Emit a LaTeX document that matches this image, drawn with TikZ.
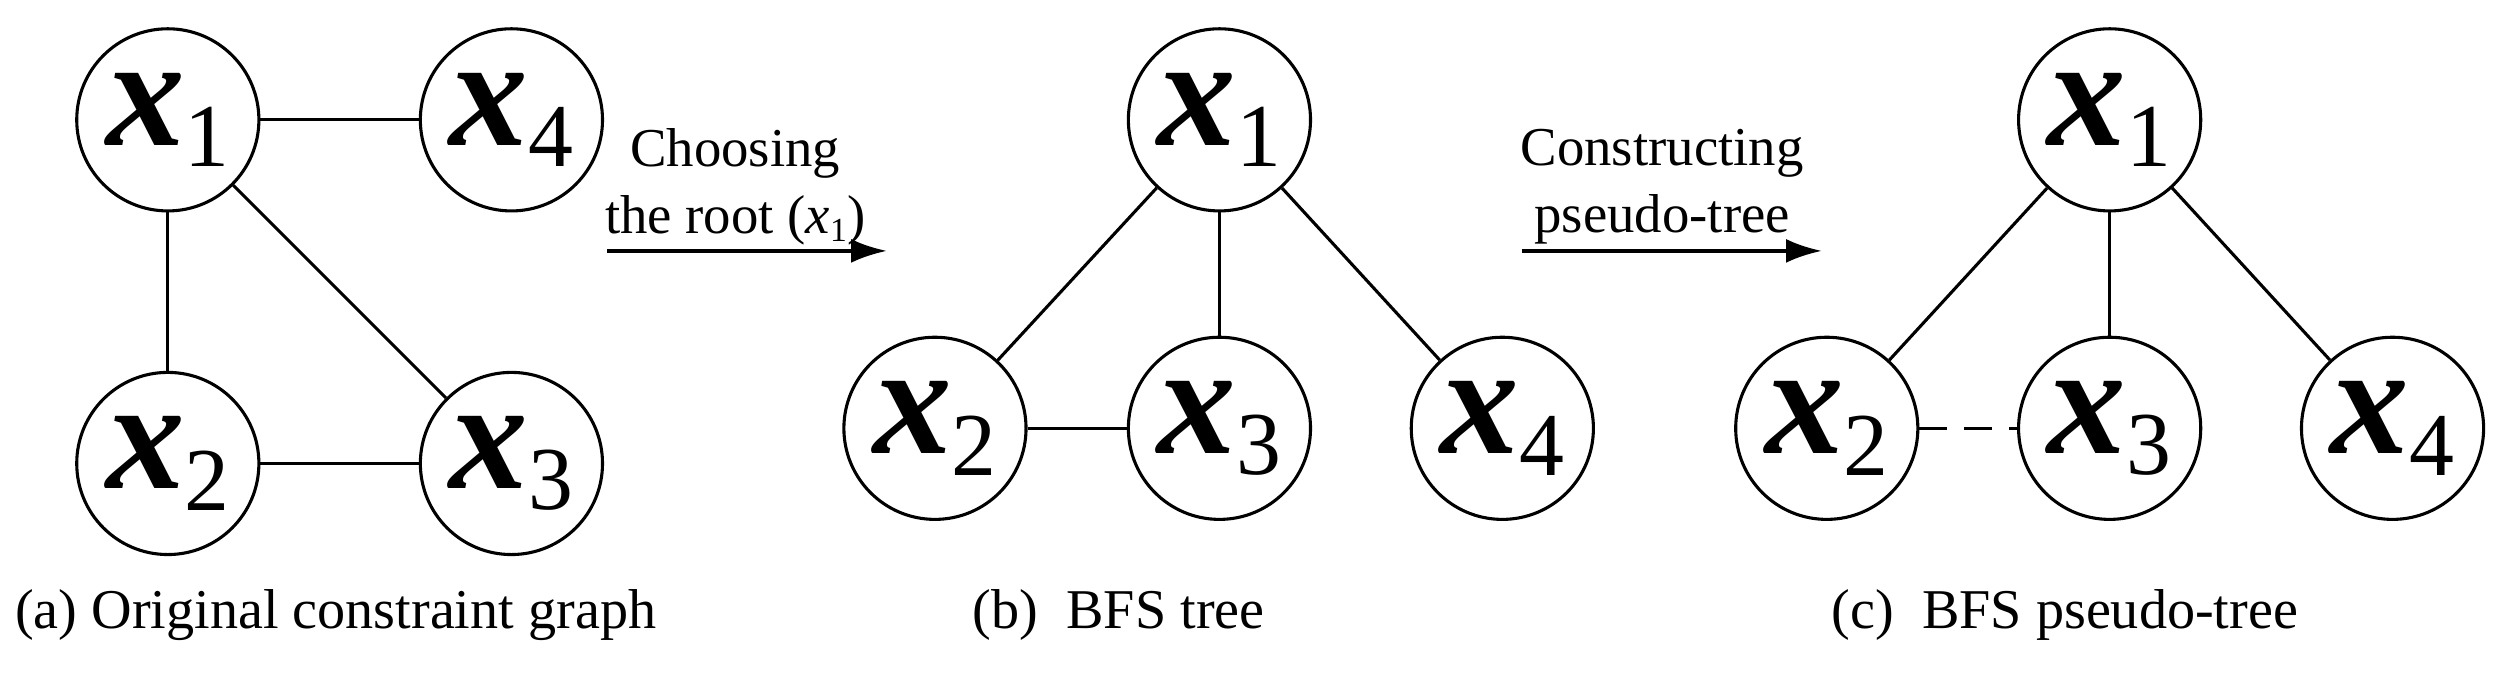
\documentclass[tikz,border=0pt]{standalone}
\usepackage{fontspec}
\setmainfont{Liberation Serif}
\usetikzlibrary{arrows.meta}
\newcommand\xv[1]{\textit{\textbf{x}}\raisebox{-0.3ex}{\fontsize{32}{32}\selectfont #1}}
\newcommand\xs[1]{\textit{x}\raisebox{-0.3ex}{\fontsize{12}{12}\selectfont #1}}
\begin{document}
\begin{tikzpicture}[x=0.02cm,y=-0.02cm,
  v/.style={circle,draw,line width=1.1pt,minimum size=2.28cm,inner sep=0pt,font=\fontsize{56}{56}\selectfont},
  e/.style={line width=1.1pt},
  captxt/.style={font=\fontsize{20}{23}\selectfont},
  lab/.style={font=\fontsize{19.5}{24}\selectfont,align=center},
  arr/.style={line width=1.4pt,-{Latex[length=0.45cm,width=0.3cm]}}]
\useasboundingbox (0,0) rectangle (1568,421);
% (a)
\node[v] (a1) at (105,75) {\xv1};
\node[v] (a4) at (320,75) {\xv4};
\node[v] (a2) at (105,290) {\xv2};
\node[v] (a3) at (320,290) {\xv3};
\draw[e] (a1)--(a4); \draw[e] (a1)--(a2); \draw[e] (a1)--(a3); \draw[e] (a2)--(a3);
\node[captxt] (ca) at (210,385) {(a) Original constraint graph};
% arrow 1
\coordinate (s1) at (380,157); \coordinate (t1) at (555,157);
\draw[arr] (s1)--(t1);
\node[lab] (l1) at (460,117) {Choosing\\the root (\xs1)};
% (b)
\node[v] (b1) at (763,75) {\xv1};
\node[v] (b2) at (585,268) {\xv2};
\node[v] (b3) at (763,268) {\xv3};
\node[v] (b4) at (940,268) {\xv4};
\draw[e] (b1)--(b2); \draw[e] (b1)--(b3); \draw[e] (b1)--(b4); \draw[e] (b2)--(b3);
\node[captxt] (cb) at (700,385) {(b)\ \ BFS tree};
% arrow 2
\coordinate (s2) at (952,157); \coordinate (t2) at (1140,157);
\draw[arr] (s2)--(t2);
\node[lab] (l2) at (1040,117) {Constructing\\pseudo-tree};
% (c)
\node[v] (c1) at (1320,75) {\xv1};
\node[v] (c2) at (1143,268) {\xv2};
\node[v] (c3) at (1320,268) {\xv3};
\node[v] (c4) at (1497,268) {\xv4};
\draw[e] (c1)--(c2); \draw[e] (c1)--(c3); \draw[e] (c1)--(c4);
\draw[e,dash pattern=on 10pt off 6pt] (c2)--(c3);
\node[captxt] (cc) at (1292,385) {(c)\ \ BFS pseudo-tree};
\end{tikzpicture}
\end{document}
